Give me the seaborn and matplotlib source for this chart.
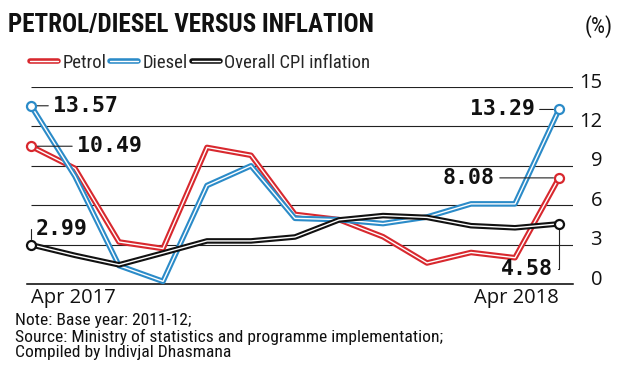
import numpy as np
import pandas as pd
import matplotlib
matplotlib.use('Agg')
import matplotlib.pyplot as plt
import matplotlib.patheffects as pe
import matplotlib.transforms as mtransforms
import seaborn as sns

months = ['Apr 2017', 'May 2017', 'Jun 2017', 'Jul 2017', 'Aug 2017', 'Sep 2017',
          'Oct 2017', 'Nov 2017', 'Dec 2017', 'Jan 2018', 'Feb 2018', 'Mar 2018', 'Apr 2018']
petrol = [10.49, 8.8, 3.2, 2.7, 10.4, 9.8, 5.3, 4.9, 3.6, 1.6, 2.4, 2.0, 8.08]
diesel = [13.57, 8.2, 1.4, 0.2, 7.5, 9.0, 5.0, 4.9, 4.6, 5.1, 6.1, 6.1, 13.29]
cpi = [2.99, 2.18, 1.46, 2.36, 3.28, 3.28, 3.58, 4.88, 5.21, 5.07, 4.44, 4.28, 4.58]
yticks = [0, 3, 6, 9, 12, 15]

series = ['Petrol', 'Diesel', 'Overall CPI inflation']
colors = ['#d8282e', '#2b8bc8', '#111111']

df = pd.DataFrame({'idx': np.arange(len(months)), 'Petrol': petrol,
                   'Diesel': diesel, 'Overall CPI inflation': cpi})

sns.set_style('white')
narrow = ['Roboto Condensed', 'Roboto', 'DejaVu Sans']
plt.rcParams['font.family'] = ['Open Sans', 'DejaVu Sans']

W, H = 620, 377
fig = plt.figure(figsize=(6.2, 3.77), dpi=100)
ax = fig.add_axes([27 / W, 1 - 284 / H, (573 - 27) / W, (284 - 87) / H])

# gridlines
ax.hlines(yticks[1:], 0, 12.318, color='#222222', lw=0.8, zorder=1)

for name, c in zip(series, colors):
    sns.lineplot(data=df, x='idx', y=name, color='white', lw=1.0, label=name, ax=ax,
                 path_effects=[pe.Stroke(linewidth=4.0, foreground=c), pe.Normal()],
                 zorder=3, clip_on=False)
    ax.plot([df['idx'].iloc[0], df['idx'].iloc[-1]], [df[name].iloc[0], df[name].iloc[-1]],
            'o', mfc='white', mec=c, ms=6.5, mew=1.6, zorder=6, clip_on=False)

ax.set_xlim(-4 / 44, 12 + 14 / 44)
ax.set_ylim(0, 15)
for s in ['top', 'left', 'right']:
    ax.spines[s].set_visible(False)
ax.spines['bottom'].set_color('black')
ax.spines['bottom'].set_linewidth(1.1)

xlabels = [m if i in (0, len(months) - 1) else '' for i, m in enumerate(months)]
ax.set_xticks(df['idx'], xlabels)
ax.tick_params(axis='x', direction='in', length=5, width=0.8, color='black',
               pad=3, labelsize=14.5, labelcolor='#111111')
xl = ax.get_xticklabels()
xl[0].set_ha('left')
xl[-1].set_ha('right')

ax.set_yticks(yticks)
ax.yaxis.tick_right()
ax.tick_params(axis='y', length=0, pad=21, labelsize=14.5, labelcolor='#111111')
off = mtransforms.ScaledTranslation(0, 5 / 72, fig.dpi_scale_trans)
for t in ax.get_yticklabels():
    t.set_ha('right')
    t.set_transform(t.get_transform() + off)
ax.set_xlabel('')
ax.set_ylabel('')

# endpoint labels
bold = dict(family='DejaVu Sans Mono', fontweight='bold', fontsize=15.5, color='#111111')
arrow = dict(arrowstyle='-', lw=0.8, color='#222222', shrinkA=1, shrinkB=4)
corner = dict(arrow, connectionstyle='angle,angleA=0,angleB=90,rad=0')
ax.annotate(f'{diesel[0]:.2f}', (0, diesel[0]), xytext=(15.8, 0), textcoords='offset points',
            ha='left', va='center', arrowprops=arrow, **bold)
ax.annotate(f'{petrol[0]:.2f}', (0, petrol[0]), xytext=(33, 0), textcoords='offset points',
            ha='left', va='center', arrowprops=arrow, **bold)
ax.annotate(f'{cpi[0]:.2f}', (0, cpi[0]), xytext=(3.6, 11.5), textcoords='offset points',
            ha='left', va='center', arrowprops=corner, **bold)
ax.annotate(f'{diesel[-1]:.2f}', (12, diesel[-1]), xytext=(-17.3, 0), textcoords='offset points',
            ha='right', va='center', arrowprops=arrow, **bold)
ax.annotate(f'{petrol[-1]:.2f}', (12, petrol[-1]), xytext=(-46, 0), textcoords='offset points',
            ha='right', va='center', arrowprops=arrow, **bold)
ax.annotate(f'{cpi[-1]:.2f}', (12, cpi[-1]), xytext=(-4.3, -32.4), textcoords='offset points',
            ha='right', va='center', arrowprops=corner, **bold)

leg = ax.legend(loc='center left', bbox_to_anchor=(30 / W, 1 - 63 / H),
                bbox_transform=fig.transFigure, ncol=3, frameon=False,
                handlelength=1.5, handletextpad=0.25, columnspacing=0.2,
                borderaxespad=0, borderpad=0, prop={'family': narrow, 'size': 13.4})

fig.text(8 / W, 1 - 25 / H, 'PETROL/DIESEL VERSUS INFLATION', family=narrow,
         fontweight='bold', fontsize=18.1, va='center', ha='left', color='#111111')
fig.text(613 / W, 1 - 27 / H, '(%)', family=narrow, fontsize=16, va='center', ha='right',
         color='#111111')
notes = ['Note: Base year: 2011-12;',
         'Source: Ministry of statistics and programme implementation;',
         'Compiled by Indivjal Dhasmana']
for i, line in enumerate(notes):
    fig.text(15 / W, 1 - (321 + 16 * i) / H, line, family=narrow, fontsize=12.6,
             va='center', ha='left', color='#111111')

fig.savefig('out.png', dpi=100)
